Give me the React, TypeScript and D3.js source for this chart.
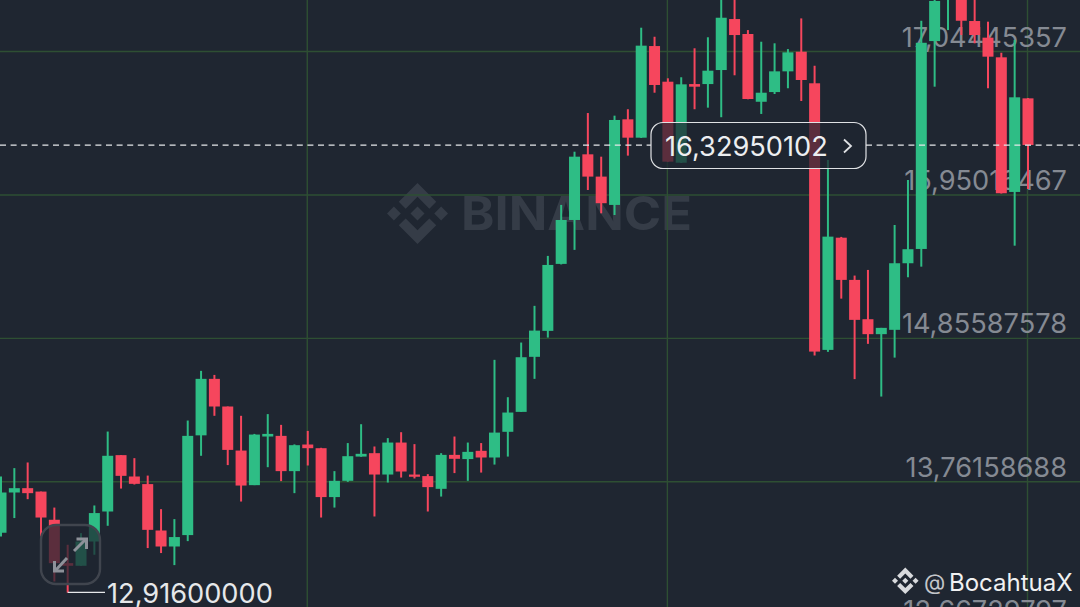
import React from "react";
import * as d3 from "d3";

const WIDTH = 1080;
const HEIGHT = 607;

const highs = [13.802,13.866,13.909,13.687,13.565,13.281,13.370,13.581,14.145,13.965,13.942,13.809,13.553,13.477,14.229,14.608,14.577,14.336,14.265,14.127,14.278,14.196,14.047,14.150,14.021,13.843,14.057,14.201,14.031,14.095,14.140,14.049,13.820,13.980,14.107,14.061,14.057,14.692,14.407,14.824,15.104,15.485,15.874,16.280,16.575,16.242,16.555,16.604,17.226,17.157,16.840,16.848,17.069,17.153,17.475,17.475,17.208,17.119,17.107,17.063,17.297,16.936,16.217,15.630,15.335,15.378,14.936,15.721,16.064,17.279,17.475,17.740,17.666,17.510,17.272,17.035,17.132,16.690];
const lows = [13.344,13.485,13.629,13.344,13.001,12.916,13.121,13.205,13.426,13.710,13.741,13.256,13.218,13.126,13.309,13.960,14.265,13.889,13.611,13.736,13.873,13.767,13.675,13.886,13.489,13.565,13.761,13.952,13.497,13.756,13.794,13.787,13.535,13.649,13.828,13.769,13.832,13.893,13.954,14.295,14.547,14.862,15.420,15.531,15.988,15.810,15.797,16.250,16.385,16.730,16.202,16.194,16.604,16.616,16.543,16.863,16.680,16.568,16.720,16.764,16.667,14.725,14.753,15.159,14.545,14.814,14.412,14.709,15.322,15.403,16.776,17.208,17.170,17.107,16.764,15.961,15.563,15.996];
const opens = [13.373,13.680,13.713,13.687,13.472,13.141,13.121,13.306,13.535,13.965,13.802,13.744,13.390,13.268,13.355,14.116,14.547,14.336,14.000,13.736,14.107,14.112,13.843,14.046,14.018,13.645,13.769,13.954,13.980,13.817,14.061,13.817,13.805,13.708,13.967,13.935,13.998,13.947,14.143,14.295,14.715,14.913,15.424,15.759,16.260,16.090,15.874,16.527,16.387,17.086,16.814,16.196,16.796,16.796,16.903,17.292,17.178,16.661,16.735,16.893,17.043,16.802,14.768,15.624,15.302,15.002,14.888,14.921,15.429,15.538,17.124,17.498,17.475,17.277,17.150,17.000,15.973,16.687];
const closes = [13.680,13.713,13.675,13.489,13.141,13.121,13.306,13.523,13.960,13.807,13.746,13.395,13.268,13.340,14.112,14.547,14.336,14.005,13.733,14.122,14.127,13.843,14.041,14.018,13.645,13.769,13.957,13.975,13.817,14.061,13.840,13.800,13.721,13.967,13.937,13.990,13.947,14.137,14.290,14.712,14.915,15.416,15.759,16.242,16.090,15.887,16.522,16.387,17.089,16.789,16.204,16.794,16.776,16.898,17.302,17.170,16.682,16.730,16.893,17.038,16.827,14.755,15.632,15.302,14.997,14.888,14.936,15.429,15.536,17.111,17.430,17.666,17.279,17.170,17.005,15.963,16.695,16.331];

const priceTicks = [17.04445357, 15.95016467, 14.85587578, 13.76158688, 12.66729797];
const timeGridIndexes = [23, 50, 77];
const lastPrice = 16.32950102;
const lowPrice = 12.916;

const fmt = (v: number, d = 8) => v.toFixed(d).replace(".", ",");

const BG = "#1f2631";
const GRID = "#2e4f33";
const UP = "#2ebd85";
const DOWN = "#f6465d";
const FONT = "Inter, Roboto, sans-serif";

const x = d3.scaleLinear().domain([0, 77]).range([1, 1028]);
const y = d3.scaleLinear().domain([17.04445357, 13.76158688]).range([51.5, 481.8]);

const LOGO = [
  "M38.73 53.2 63.31 28.63 87.89 53.21l14.29-14.3L63.31 0 24.43 38.9z",
  "M0 63.31 14.3 49 28.6 63.31 14.3 77.6z",
  "M38.73 73.41 63.31 97.98 87.89 73.4l14.3 14.29-38.88 38.92-38.88-38.88z",
  "M98.01 63.31 112.31 49 126.61 63.31 112.31 77.6z",
  "M77.81 63.3 63.31 48.8 48.81 63.31 63.31 77.8z",
];

function Logo({ tx, ty, s, fill }: { tx: number; ty: number; s: number; fill: string }) {
  return (
    <g transform={`translate(${tx},${ty}) scale(${s})`} fill={fill}>
      {LOGO.map((d) => <path key={d} d={d} />)}
    </g>
  );
}

export default function App() {
  const yLast = y(lastPrice);
  return (
    <svg width={WIDTH} height={HEIGHT} viewBox={`0 0 ${WIDTH} ${HEIGHT}`}
      style={{ position: "fixed", left: 0, top: 0, display: "block" }} fontFamily={FONT}>
      <rect width={WIDTH} height={HEIGHT} fill={BG} />

      <Logo tx={387} ty={183} s={0.482} fill="#353c47" />
      <text x={461} y={230} fontSize={46} fontWeight={700} fill="#353c47" textLength={231} lengthAdjust="spacingAndGlyphs">BINANCE</text>

      {priceTicks.map((p) => (
        <line key={p} x1={0} x2={WIDTH} y1={y(p)} y2={y(p)} stroke={GRID} strokeWidth={1.4} />
      ))}
      {timeGridIndexes.map((i) => (
        <line key={i} x1={x(i) - 0.5} x2={x(i) - 0.5} y1={0} y2={HEIGHT} stroke={GRID} strokeWidth={1.4} />
      ))}

      {priceTicks.map((p) => (
        <text key={p} x={1067} y={y(p) - 5} textAnchor="end" fontSize={27.2} fill="#858a93">{fmt(p)}</text>
      ))}

      {opens.map((o, i) => {
        const c = closes[i];
        const color = c >= o ? UP : DOWN;
        const top = y(Math.max(o, c));
        const bottom = y(Math.min(o, c));
        return (
          <g key={i}>
            <line x1={x(i)} x2={x(i)} y1={y(highs[i])} y2={y(lows[i])} stroke={color} strokeWidth={2} />
            <rect x={x(i) - 5.5} y={top} width={11} height={Math.max(bottom - top, 1)} fill={color} />
          </g>
        );
      })}

      <line x1={0} x2={651} y1={yLast} y2={yLast} stroke="#e6e8ea" strokeWidth={1.3} strokeDasharray="6 4.6" />
      <line x1={866} x2={WIDTH} y1={yLast} y2={yLast} stroke="#e6e8ea" strokeWidth={1.3} strokeDasharray="6 4.6" />
      <rect x={651} y={122.5} width={215} height={46} rx={12} fill={BG} fillOpacity={0.72} stroke="#dfe1e4" strokeWidth={1.2} />
      <text x={665} y={156} fontSize={27.2} fill="#eceef0">{fmt(lastPrice)}</text>
      <path d="M844 139.5 L851 146 L844 152.5" fill="none" stroke="#dfe1e4" strokeWidth={1.8} />

      <line x1={x(5)} x2={105} y1={y(lowPrice) - 0.3} y2={y(lowPrice) - 0.3} stroke="#e6e8ea" strokeWidth={1.3} />
      <text x={107} y={603} fontSize={27.2} fill="#e6e8ea">{fmt(lowPrice)}</text>

      <rect x={41} y={525} width={59} height={59} rx={15} fill={BG} fillOpacity={0.72} stroke="#40454e" strokeWidth={2.4} />
      <g fill="none" stroke="#8d9199" strokeWidth={3}>
        <path d="M55 571 L67 558" />
        <path d="M54.5 561 V571 H64" />
        <path d="M74 551 L86 539" />
        <path d="M76.5 539 H86.5 V549" />
      </g>

      <Logo tx={892} ty={567.5} s={0.21} fill="#d8dadd" />
      <text x={924} y={590} fontSize={22} fill="#c4c6ca">@</text>
      <text x={949} y={590.5} fontSize={24} fill="#f0f1f2">BocahtuaX</text>
    </svg>
  );
}
